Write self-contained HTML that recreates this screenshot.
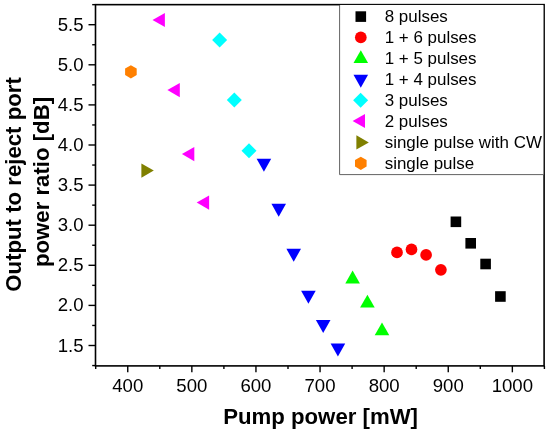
<!DOCTYPE html>
<html lang="en"><head><meta charset="utf-8"><title>Output to reject port power ratio vs pump power</title>
<style>html,body{margin:0;padding:0;background:#fff}svg{display:block}text{font-family:"Liberation Sans",sans-serif;fill:#000}.tk{font-size:18.6px}.lg{font-size:16.95px}.ax{font-size:22.2px;font-weight:bold}</style></head><body>
<svg width="550" height="434" viewBox="0 0 550 434">
<rect x="0" y="0" width="550" height="434" fill="#fff"/>
<rect x="95.5" y="4.65" width="448.60" height="361.25" fill="none" stroke="#000" stroke-width="1.6"/>
<line x1="88.5" y1="24.70" x2="95.5" y2="24.70" stroke="#000" stroke-width="1.4"/>
<text class="tk" x="83.6" y="30.70" text-anchor="end">5.5</text>
<line x1="88.5" y1="64.80" x2="95.5" y2="64.80" stroke="#000" stroke-width="1.4"/>
<text class="tk" x="83.6" y="70.80" text-anchor="end">5.0</text>
<line x1="88.5" y1="104.90" x2="95.5" y2="104.90" stroke="#000" stroke-width="1.4"/>
<text class="tk" x="83.6" y="110.90" text-anchor="end">4.5</text>
<line x1="88.5" y1="145.00" x2="95.5" y2="145.00" stroke="#000" stroke-width="1.4"/>
<text class="tk" x="83.6" y="151.00" text-anchor="end">4.0</text>
<line x1="88.5" y1="185.10" x2="95.5" y2="185.10" stroke="#000" stroke-width="1.4"/>
<text class="tk" x="83.6" y="191.10" text-anchor="end">3.5</text>
<line x1="88.5" y1="225.20" x2="95.5" y2="225.20" stroke="#000" stroke-width="1.4"/>
<text class="tk" x="83.6" y="231.20" text-anchor="end">3.0</text>
<line x1="88.5" y1="265.30" x2="95.5" y2="265.30" stroke="#000" stroke-width="1.4"/>
<text class="tk" x="83.6" y="271.30" text-anchor="end">2.5</text>
<line x1="88.5" y1="305.40" x2="95.5" y2="305.40" stroke="#000" stroke-width="1.4"/>
<text class="tk" x="83.6" y="311.40" text-anchor="end">2.0</text>
<line x1="88.5" y1="345.50" x2="95.5" y2="345.50" stroke="#000" stroke-width="1.4"/>
<text class="tk" x="83.6" y="351.50" text-anchor="end">1.5</text>
<line x1="92.2" y1="4.65" x2="95.5" y2="4.65" stroke="#000" stroke-width="1.4"/>
<line x1="92.2" y1="44.75" x2="95.5" y2="44.75" stroke="#000" stroke-width="1.4"/>
<line x1="92.2" y1="84.85" x2="95.5" y2="84.85" stroke="#000" stroke-width="1.4"/>
<line x1="92.2" y1="124.95" x2="95.5" y2="124.95" stroke="#000" stroke-width="1.4"/>
<line x1="92.2" y1="165.05" x2="95.5" y2="165.05" stroke="#000" stroke-width="1.4"/>
<line x1="92.2" y1="205.15" x2="95.5" y2="205.15" stroke="#000" stroke-width="1.4"/>
<line x1="92.2" y1="245.25" x2="95.5" y2="245.25" stroke="#000" stroke-width="1.4"/>
<line x1="92.2" y1="285.35" x2="95.5" y2="285.35" stroke="#000" stroke-width="1.4"/>
<line x1="92.2" y1="325.45" x2="95.5" y2="325.45" stroke="#000" stroke-width="1.4"/>
<line x1="92.2" y1="365.55" x2="95.5" y2="365.55" stroke="#000" stroke-width="1.4"/>
<line x1="127.75" y1="365.9" x2="127.75" y2="372.29999999999995" stroke="#000" stroke-width="1.4"/>
<text class="tk" x="127.75" y="392.45" text-anchor="middle">400</text>
<line x1="191.85" y1="365.9" x2="191.85" y2="372.29999999999995" stroke="#000" stroke-width="1.4"/>
<text class="tk" x="191.85" y="392.45" text-anchor="middle">500</text>
<line x1="255.95" y1="365.9" x2="255.95" y2="372.29999999999995" stroke="#000" stroke-width="1.4"/>
<text class="tk" x="255.95" y="392.45" text-anchor="middle">600</text>
<line x1="320.05" y1="365.9" x2="320.05" y2="372.29999999999995" stroke="#000" stroke-width="1.4"/>
<text class="tk" x="320.05" y="392.45" text-anchor="middle">700</text>
<line x1="384.15" y1="365.9" x2="384.15" y2="372.29999999999995" stroke="#000" stroke-width="1.4"/>
<text class="tk" x="384.15" y="392.45" text-anchor="middle">800</text>
<line x1="448.25" y1="365.9" x2="448.25" y2="372.29999999999995" stroke="#000" stroke-width="1.4"/>
<text class="tk" x="448.25" y="392.45" text-anchor="middle">900</text>
<line x1="512.35" y1="365.9" x2="512.35" y2="372.29999999999995" stroke="#000" stroke-width="1.4"/>
<text class="tk" x="512.35" y="392.45" text-anchor="middle">1000</text>
<line x1="95.70" y1="365.9" x2="95.70" y2="369.0" stroke="#000" stroke-width="1.4"/>
<line x1="159.80" y1="365.9" x2="159.80" y2="369.0" stroke="#000" stroke-width="1.4"/>
<line x1="223.90" y1="365.9" x2="223.90" y2="369.0" stroke="#000" stroke-width="1.4"/>
<line x1="288.00" y1="365.9" x2="288.00" y2="369.0" stroke="#000" stroke-width="1.4"/>
<line x1="352.10" y1="365.9" x2="352.10" y2="369.0" stroke="#000" stroke-width="1.4"/>
<line x1="416.20" y1="365.9" x2="416.20" y2="369.0" stroke="#000" stroke-width="1.4"/>
<line x1="480.30" y1="365.9" x2="480.30" y2="369.0" stroke="#000" stroke-width="1.4"/>
<line x1="544.40" y1="365.9" x2="544.40" y2="369.0" stroke="#000" stroke-width="1.4"/>
<text class="ax" x="320.6" y="424" text-anchor="middle">Pump power [mW]</text>
<text class="ax" transform="translate(20.5,184.45) rotate(-90)" text-anchor="middle">Output to reject port</text>
<text class="ax" transform="translate(48.8,182.0) rotate(-90)" text-anchor="middle">power ratio [dB]</text>
<rect x="339.6" y="4.95" width="203.75" height="169.65" fill="#fff"/>
<path d="M339.6,5 V174.6 H543.4" fill="none" stroke="#505050" stroke-width="0.9"/>
<text class="lg" x="384.7" y="22.25">8 pulses</text>
<text class="lg" x="384.7" y="43.15">1 + 6 pulses</text>
<text class="lg" x="384.7" y="64.05">1 + 5 pulses</text>
<text class="lg" x="384.7" y="84.95">1 + 4 pulses</text>
<text class="lg" x="384.7" y="105.85">3 pulses</text>
<text class="lg" x="384.7" y="126.75">2 pulses</text>
<text class="lg" x="384.7" y="147.65">single pulse with CW</text>
<text class="lg" x="384.7" y="168.55">single pulse</text>
<rect x="355.50" y="11.30" width="10.6" height="10.6" fill="#000"/>
<circle cx="360.80" cy="37.40" r="5.85" fill="#f00"/>
<polygon points="353.50,63.00 368.10,63.00 360.80,50.20" fill="#0f0"/>
<polygon points="353.50,74.80 368.10,74.80 360.80,87.80" fill="#00f"/>
<polygon points="353.10,100.20 360.60,92.70 368.10,100.20 360.60,107.70" fill="#0ff"/>
<polygon points="365.00,113.90 365.00,128.10 352.60,121.00" fill="#f0f"/>
<polygon points="356.40,135.30 356.40,149.50 368.80,142.40" fill="#808000"/>
<polygon points="360.80,156.65 366.60,159.97 366.60,166.62 360.80,169.95 355.00,166.62 355.00,159.97" fill="#ff8000"/>
<rect x="450.60" y="216.50" width="10.6" height="10.6" fill="#000"/>
<rect x="465.40" y="238.00" width="10.6" height="10.6" fill="#000"/>
<rect x="480.30" y="258.70" width="10.6" height="10.6" fill="#000"/>
<rect x="495.10" y="291.20" width="10.6" height="10.6" fill="#000"/>
<circle cx="397.00" cy="252.40" r="5.85" fill="#f00"/>
<circle cx="411.50" cy="249.40" r="5.85" fill="#f00"/>
<circle cx="426.10" cy="254.90" r="5.85" fill="#f00"/>
<circle cx="440.90" cy="269.80" r="5.85" fill="#f00"/>
<polygon points="345.30,283.40 359.90,283.40 352.60,270.60" fill="#0f0"/>
<polygon points="360.10,307.60 374.70,307.60 367.40,294.80" fill="#0f0"/>
<polygon points="374.70,335.30 389.30,335.30 382.00,322.50" fill="#0f0"/>
<polygon points="256.60,158.80 271.20,158.80 263.90,171.80" fill="#00f"/>
<polygon points="271.40,203.80 286.00,203.80 278.70,216.80" fill="#00f"/>
<polygon points="286.40,248.80 301.00,248.80 293.70,261.80" fill="#00f"/>
<polygon points="301.10,290.70 315.70,290.70 308.40,303.70" fill="#00f"/>
<polygon points="315.90,320.10 330.50,320.10 323.20,333.10" fill="#00f"/>
<polygon points="330.60,343.60 345.20,343.60 337.90,356.60" fill="#00f"/>
<polygon points="212.10,40.10 219.60,32.60 227.10,40.10 219.60,47.60" fill="#0ff"/>
<polygon points="226.80,100.10 234.30,92.60 241.80,100.10 234.30,107.60" fill="#0ff"/>
<polygon points="241.50,150.80 249.00,143.30 256.50,150.80 249.00,158.30" fill="#0ff"/>
<polygon points="164.90,12.90 164.90,27.10 152.50,20.00" fill="#f0f"/>
<polygon points="179.80,83.00 179.80,97.20 167.40,90.10" fill="#f0f"/>
<polygon points="194.30,147.00 194.30,161.20 181.90,154.10" fill="#f0f"/>
<polygon points="209.10,195.50 209.10,209.70 196.70,202.60" fill="#f0f"/>
<polygon points="141.40,163.50 141.40,177.70 153.80,170.60" fill="#808000"/>
<polygon points="130.90,65.15 136.70,68.47 136.70,75.12 130.90,78.45 125.10,75.12 125.10,68.47" fill="#ff8000"/>
</svg></body></html>
